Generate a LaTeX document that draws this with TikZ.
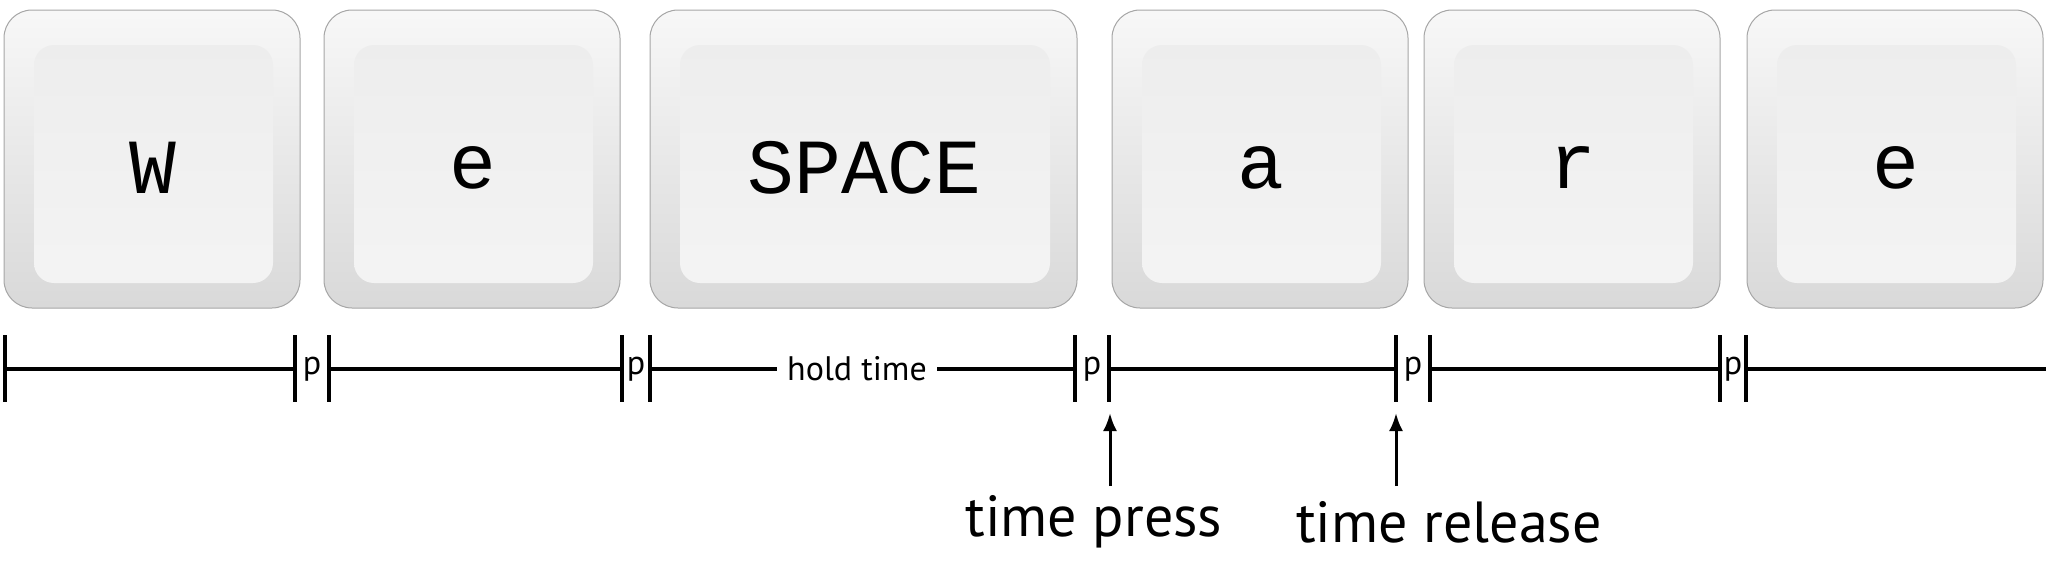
\documentclass[tikz,border=0pt]{standalone}
\usepackage{fontspec}
\usetikzlibrary{arrows.meta}
\setmainfont{PT Sans}
\newfontfamily\keyfont{Liberation Mono}
\begin{document}
\begin{tikzpicture}[x=1pt,y=-1pt,
  outerkey/.style={draw=gray!70,line width=1pt,rounded corners=28pt,top color=gray!6,bottom color=gray!30},
  innerkey/.style={rounded corners=20pt,top color=gray!14,bottom color=gray!9},
  keylbl/.style={font=\keyfont\fontsize{78}{78}\selectfont},
  tick/.style={line width=3.2pt},
  seg/.style={line width=3.6pt},
  plbl/.style={font=\fontsize{34}{34}\selectfont,inner sep=0pt},
  bigl/.style={font=\fontsize{58}{58}\selectfont,inner sep=0pt},
  arr/.style={line width=3pt,-{Latex[length=18pt,width=14pt]}}]
\useasboundingbox (0,0) rectangle (2046,560);
% keys
\foreach \a/\b/\t/\n in {4/300/W/k1,324/620/e/k2,650/1077/SPACE/k3,1112/1408/a/k4,1424/1720/r/k5,1747/2043/e/k6}{
  \path[outerkey] (\a,10) rectangle (\b,308);
  \path[innerkey] (\a+30,45) rectangle (\b-27,283);
  \node[keylbl] (\n) at ({(\a+\b)/2+1},168) {\t};
}
% ticks
\foreach \x/\n in {5/t0,295/t1,329/t2,622/t3,650/t4,1075/t5,1109/t6,1396/t7,1430/t8,1720/t9,1746/t10}{
  \coordinate (\n a) at (\x,335);
  \coordinate (\n b) at (\x,402);
  \coordinate (\n) at (\x,369);
  \draw[tick] (\n a) -- (\n b);
}
\coordinate (tend) at (2046,369);
% p labels
\node[plbl] (p1) at (312,369) {p};
\node[plbl] (p2) at (636,369) {p};
\node[plbl] (p3) at (1092,369) {p};
\node[plbl] (p4) at (1413,369) {p};
\node[plbl] (p5) at (1733,369) {p};
\node[plbl,fill=white,inner xsep=10pt,anchor=center] (hold) at (857,369) {hold time};
\coordinate (hw) at (hold.west |- t4);
\coordinate (he) at (hold.east |- t5);
% segments
\draw[seg] (t0) -- (t1);
\draw[seg] (t2) -- (t3);
\draw[seg] (t4) -- (hw);
\draw[seg] (he) -- (t5);
\draw[seg] (t6) -- (t7);
\draw[seg] (t8) -- (t9);
\draw[seg] (t10) -- (tend);
% arrows
\node[bigl] (tp) at (1094,522) {time press};
\node[bigl] (tr) at (1449,522) {time release};
\coordinate (a1s) at (1110,486);
\coordinate (a1e) at (1110,413);
\coordinate (a2s) at (1396,486);
\coordinate (a2e) at (1396,413);
\draw[arr] (a1s) -- (a1e);
\draw[arr] (a2s) -- (a2e);
\end{tikzpicture}
\end{document}
